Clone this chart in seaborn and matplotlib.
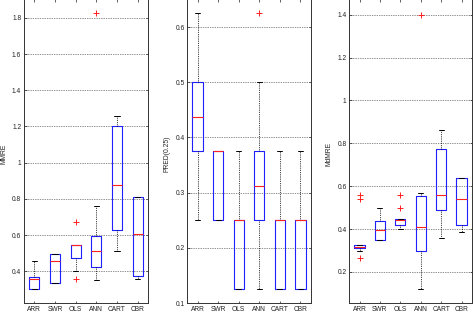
import numpy as np
import pandas as pd
import matplotlib
matplotlib.use("Agg")
import matplotlib.pyplot as plt
import seaborn as sns

methods = ["ARR", "SWR", "OLS", "ANN", "CART", "CBR"]

# MMRE observations per method
mmre_ARR = [0.304, 0.304, 0.304, 0.304, 0.350, 0.364, 0.370, 0.370, 0.410, 0.454]
mmre_SWR = [0.337, 0.337, 0.337, 0.337, 0.450, 0.462, 0.493, 0.493, 0.493, 0.493]
mmre_OLS = [0.356, 0.400, 0.472, 0.472, 0.544, 0.546, 0.547, 0.547, 0.547, 0.672]
mmre_ANN = [0.352, 0.400, 0.422, 0.422, 0.500, 0.522, 0.593, 0.593, 0.760, 1.830]
mmre_CART = [0.509, 0.550, 0.628, 0.628, 0.850, 0.898, 1.205, 1.205, 1.230, 1.260]
mmre_CBR = [0.357, 0.370, 0.376, 0.376, 0.590, 0.618, 0.811, 0.811, 0.811, 0.811]

# PRED(0.25) observations per method
pred_ARR = [0.25, 0.375, 0.375, 0.375, 0.375, 0.5, 0.5, 0.5, 0.5, 0.625]
pred_SWR = [0.25, 0.25, 0.25, 0.25, 0.375, 0.375, 0.375, 0.375, 0.375, 0.375]
pred_OLS = [0.125, 0.125, 0.125, 0.125, 0.25, 0.25, 0.25, 0.25, 0.375, 0.375]
pred_ANN = [0.125, 0.25, 0.25, 0.25, 0.25, 0.375, 0.375, 0.375, 0.5, 0.625]
pred_CART = [0.125, 0.125, 0.125, 0.125, 0.25, 0.25, 0.25, 0.25, 0.375, 0.375]
pred_CBR = [0.125, 0.125, 0.125, 0.125, 0.25, 0.25, 0.25, 0.25, 0.375, 0.375]

# MdMRE observations per method
mdmre_ARR = [0.264, 0.298, 0.310, 0.310, 0.316, 0.320, 0.325, 0.325, 0.538, 0.559]
mdmre_SWR = [0.350, 0.350, 0.350, 0.350, 0.390, 0.400, 0.436, 0.436, 0.470, 0.498]
mdmre_OLS = [0.400, 0.410, 0.419, 0.419, 0.438, 0.442, 0.447, 0.447, 0.497, 0.561]
mdmre_ANN = [0.120, 0.250, 0.298, 0.298, 0.400, 0.416, 0.553, 0.553, 0.567, 1.400]
mdmre_CART = [0.358, 0.420, 0.490, 0.490, 0.550, 0.568, 0.772, 0.772, 0.820, 0.862]
mdmre_CBR = [0.384, 0.400, 0.419, 0.419, 0.530, 0.550, 0.639, 0.639, 0.639, 0.639]

ylabels = ["MMRE", "PRED(0.25)", "MdMRE"]
ytick_vals = [
    [0.4, 0.6, 0.8, 1.0, 1.2, 1.4, 1.6, 1.8],
    [0.1, 0.2, 0.3, 0.4, 0.5, 0.6],
    [0.2, 0.4, 0.6, 0.8, 1.0, 1.2, 1.4],
]
ytick_labels = [
    ["0.4", "0.6", "0.8", "1", "1.2", "1.4", "1.6", "1.8"],
    ["0.1", "0.2", "0.3", "0.4", "0.5", "0.6"],
    ["0.2", "0.4", "0.6", "0.8", "1", "1.2", "1.4"],
]
ylims = [(0.224, 1.905), (0.1, 0.651), (0.055, 1.473)]


def long_frame(*cols):
    rows = []
    for m, vals in zip(methods, cols):
        for v in vals:
            rows.append((m, v))
    return pd.DataFrame(rows, columns=["method", "value"])


frames = [
    long_frame(mmre_ARR, mmre_SWR, mmre_OLS, mmre_ANN, mmre_CART, mmre_CBR),
    long_frame(pred_ARR, pred_SWR, pred_OLS, pred_ANN, pred_CART, pred_CBR),
    long_frame(mdmre_ARR, mdmre_SWR, mdmre_OLS, mdmre_ANN, mdmre_CART, mdmre_CBR),
]

sns.set_style("white")
plt.rcParams["font.family"] = ["Liberation Sans", "DejaVu Sans"]

W, H = 474, 327
fig = plt.figure(figsize=(W / 100, H / 100), dpi=100)
lefts = [24, 187.3, 349.3]
widths = [124, 123.4, 122.4]
bottom_px = 24
height_px = 304

for i in range(3):
    ax = fig.add_axes([lefts[i] / W, bottom_px / H, widths[i] / W, height_px / H])
    sns.boxplot(
        data=frames[i], x="method", y="value", order=methods, ax=ax,
        fill=False, color="blue", width=0.5, linewidth=0.8, whis=1.5,
        boxprops=dict(color="#2020ff", linewidth=0.8),
        whiskerprops=dict(color="black", linestyle=(0, (1, 1.2)), linewidth=0.6),
        capprops=dict(color="black", linewidth=0.7),
        medianprops=dict(color="#ff2020", linewidth=0.8),
        flierprops=dict(marker="+", markeredgecolor="#ff2020", markerfacecolor="#ff2020",
                        markersize=4.5, markeredgewidth=0.7),
    )
    ax.set_xlim(-0.5, 5.5)
    ax.set_ylim(*ylims[i])
    ax.set_yticks(ytick_vals[i])
    ax.set_yticklabels(ytick_labels[i])
    ax.set_xlabel("")
    ax.set_ylabel(ylabels[i], fontsize=4.9)
    ax.yaxis.set_label_coords(-0.135, 0.49)
    ax.yaxis.grid(True, linestyle=(0, (1, 1.5)), color="#222222", linewidth=0.5)
    ax.xaxis.grid(False)
    ax.set_axisbelow(True)
    ax.tick_params(axis="both", direction="in", length=1.8, width=0.5,
                   labelsize=4.8, pad=2.0, colors="#222222",
                   top=True, right=True, bottom=True, left=True)
    for sp in ax.spines.values():
        sp.set_color("#333333")
        sp.set_linewidth(0.7)

fig.savefig("out.png", dpi=100)
